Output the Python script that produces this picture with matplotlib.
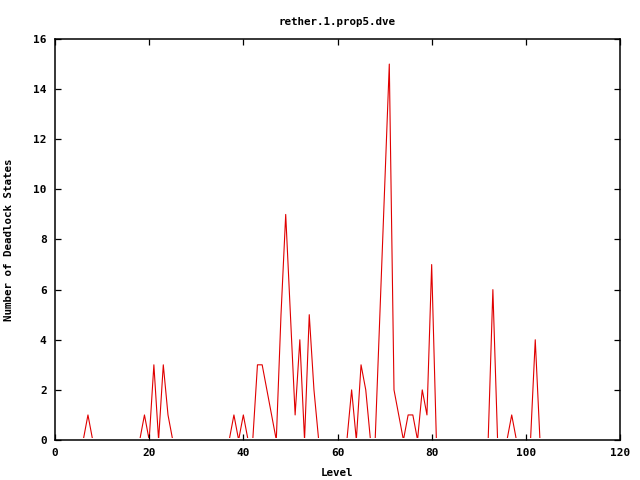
import matplotlib
matplotlib.use("Agg")
import matplotlib.pyplot as plt
from matplotlib.transforms import Bbox, TransformedBbox
import numpy as np

title = "rether.1.prop5.dve"
xlabel = "Level"
ylabel = "Number of Deadlock States"

# deadlock states per level (levels 0..103)
levels = list(range(0, 104))
counts = [0, 0, 0, 0, 0, 0, 0, 1, 0, 0,      # 0-9
          0, 0, 0, 0, 0, 0, 0, 0, 0, 1,      # 10-19
          0, 3, 0, 3, 1, 0, 0, 0, 0, 0,      # 20-29
          0, 0, 0, 0, 0, 0, 0, 0, 1, 0,      # 30-39
          1, 0, 0, 3, 3, 2, 1, 0, 5, 9,      # 40-49
          5, 1, 4, 0, 5, 2, 0, 0, 0, 0,      # 50-59
          0, 0, 0, 2, 0, 3, 2, 0, 0, 5,      # 60-69
          10, 15, 2, 1, 0, 1, 1, 0, 2, 1,    # 70-79
          7, 0, 0, 0, 0, 0, 0, 0, 0, 0,      # 80-89
          0, 0, 0, 6, 0, 0, 0, 1, 0, 0,      # 90-99
          0, 0, 4, 0]                        # 100-103

xticks = [0, 20, 40, 60, 80, 100, 120]
yticks = [0, 2, 4, 6, 8, 10, 12, 14, 16]

plt.rcParams['font.family'] = ['DejaVu Sans Mono']
plt.rcParams['font.weight'] = 'bold'

fig = plt.figure(figsize=(6.4, 4.8), dpi=100)
ax = fig.add_axes([55/640, 1 - 440/480, (620 - 55)/640, (440 - 39)/480])
line, = ax.plot(levels, counts, color='#e00000', linewidth=0.8, zorder=1)
# keep the curve from painting over the x axis line (as in the reference)
line.set_clip_box(TransformedBbox(Bbox([[0, 2.0/401], [1, 1]]), ax.transAxes))
ax.set_xlim(0, 120)
ax.set_ylim(0, 16)
ax.set_xticks(xticks)
ax.set_yticks(yticks)
ax.tick_params(direction='in', top=True, right=True, length=4, width=0.9,
               labelsize=8, pad=6)
for lab in ax.get_xticklabels() + ax.get_yticklabels():
    lab.set_fontweight('bold')
for s in ax.spines.values():
    s.set_linewidth(1.1)
    s.set_zorder(3)
ax.set_title(title, fontsize=7.8, fontweight='bold', y=1.035, pad=0)
ax.set_xlabel(xlabel, fontsize=7.8, fontweight='bold')
ax.set_ylabel(ylabel, fontsize=7.8, fontweight='bold')
ax.xaxis.set_label_coords(0.5, -0.07)
ax.yaxis.set_label_coords(-0.072, 0.5)
fig.savefig("out.png", dpi=100)
